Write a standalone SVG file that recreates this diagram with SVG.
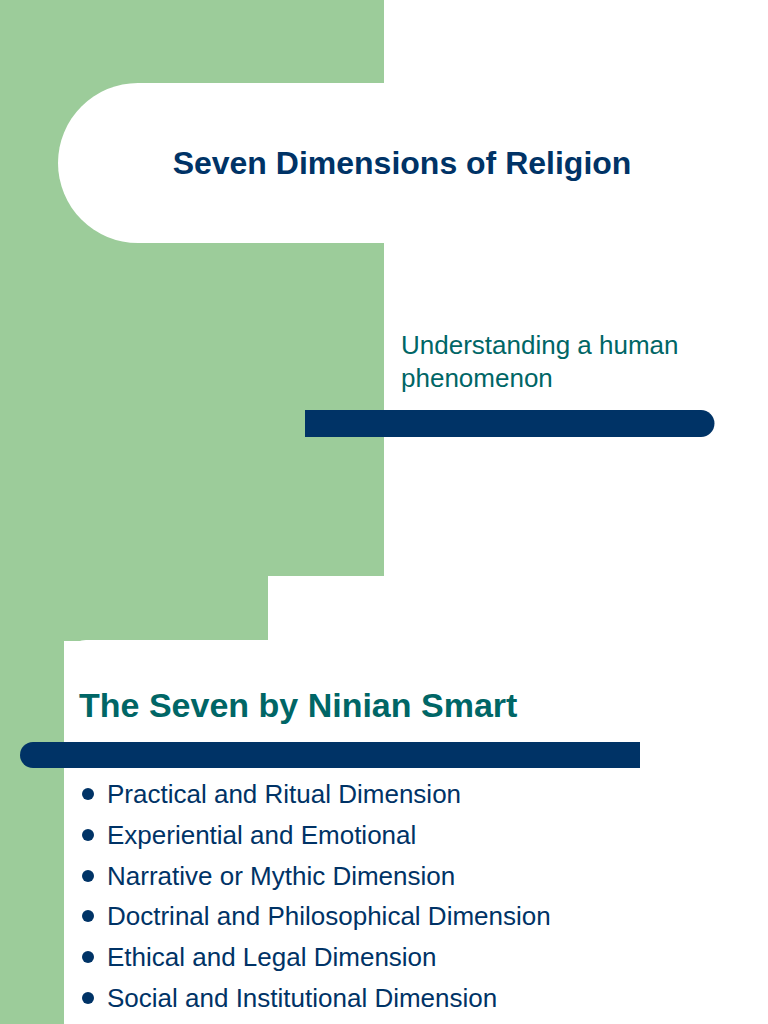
<svg xmlns="http://www.w3.org/2000/svg" width="768" height="1024" viewBox="0 0 768 1024">
<style>
.g{fill:#9ccc9a}
.b{fill:#003366}
.t{font-family:"Liberation Sans",Arial,sans-serif}
.li{font-family:"Liberation Sans",Arial,sans-serif;font-size:26px;fill:#003366}
</style>
<rect width="768" height="1024" fill="#fff"/>
<g id="background">
<rect class="g" x="0" y="0" width="384" height="576"/>
<rect class="g" x="0" y="575" width="268" height="66"/>
<rect class="g" x="0" y="640" width="64" height="384"/>
<path d="M138 83 H384 V243 H138 A80 80 0 0 1 138 83 Z" fill="#fff"/>
<path d="M64 1024 V662 A22 22 0 0 1 86 640 H768 V1024 Z" fill="#fff"/>
</g>
<g id="bars">
<path class="b" d="M305 410 H701 A13.5 13.5 0 0 1 701 437 H305 Z"/>
<path class="b" d="M640 742 H33 A13 13 0 0 0 33 768 H640 Z"/>
</g>
<g id="title"><text class="t" x="402" y="174" text-anchor="middle" font-size="32" font-weight="bold" fill="#003366">Seven Dimensions of Religion</text></g>
<g id="subtitle"><text class="t" font-size="26" fill="#006666"><tspan x="401" y="354">Understanding a human</tspan><tspan x="401" y="387">phenomenon</tspan></text></g>
<g id="heading"><text class="t" x="79" y="717" font-size="34" font-weight="bold" fill="#006666">The Seven by Ninian Smart</text></g>
<g id="list">
<circle class="b" cx="88" cy="794" r="6"/><text class="li" x="107" y="803">Practical and Ritual Dimension</text>
<circle class="b" cx="88" cy="835" r="6"/><text class="li" x="107" y="844">Experiential and Emotional</text>
<circle class="b" cx="88" cy="876" r="6"/><text class="li" x="107" y="885">Narrative or Mythic Dimension</text>
<circle class="b" cx="88" cy="916" r="6"/><text class="li" x="107" y="925">Doctrinal and Philosophical Dimension</text>
<circle class="b" cx="88" cy="957" r="6"/><text class="li" x="107" y="966">Ethical and Legal Dimension</text>
<circle class="b" cx="88" cy="998" r="6"/><text class="li" x="107" y="1007">Social and Institutional Dimension</text>
</g>
</svg>
